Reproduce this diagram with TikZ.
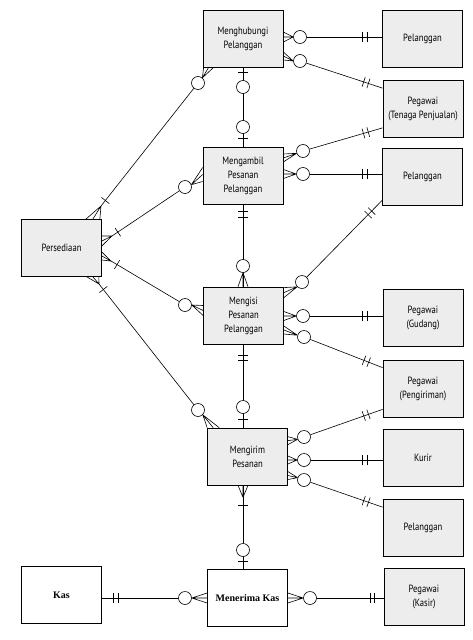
\documentclass[tikz,border=0pt]{standalone}
\usepackage{fontspec}
\newfontfamily\labfont[FakeStretch=0.82]{PT Sans}
\newfontfamily\serfont{Liberation Serif}
\usetikzlibrary{calc}
\pgfdeclarelayer{back}
\pgfdeclarelayer{bg}
\pgfsetlayers{back,bg,main}
\newcommand\crowft[3]{\draw[lk] (#1) -- (#2) (#1) -- ($(#2)+(#3)$) (#1) -- ($(#2)-(#3)$);}
\newcommand\tickbar[3]{\draw[lk] ($(#1)!#3!(#2)!5pt!90:(#2)$) -- ($(#1)!#3!(#2)!5pt!-90:(#2)$);}
\tikzset{
  ent/.style={draw, line width=0.7pt, fill=black!7, minimum width=80pt, minimum height=57pt,
    inner sep=0pt, align=center, font=\labfont\fontsize{10.5}{14}\selectfont},
  entw/.style={ent, fill=white, font=\serfont\bfseries\fontsize{10}{12}\selectfont},
  circ/.style={draw, circle, fill=white, minimum size=13pt, inner sep=0pt, line width=0.6pt},
  lk/.style={line width=0.6pt}
}
\begin{document}
\begin{tikzpicture}[x=1pt,y=-1pt]
\useasboundingbox (0,0) rectangle (472,640);
\begin{pgfonlayer}{back}
\fill[white] (0,0) rectangle (472,640);
\end{pgfonlayer}
% entities
\node[ent] (mh) at (243,38.5) {Menghubungi\\Pelanggan};
\node[ent] (p1) at (422.5,39) {Pelanggan};
\node[ent] (ptp) at (423,109) {Pegawai\\(Tenaga Penjualan)};
\node[ent] (ma) at (243,175.5) {Mengambil\\Pesanan\\Pelanggan};
\node[ent] (p2) at (422.5,176.5) {Pelanggan};
\node[ent] (mi) at (243.5,315.5) {Mengisi\\Pesanan\\Pelanggan};
\node[ent] (pg) at (423,317.5) {Pegawai\\(Gudang)};
\node[ent] (pp) at (423,388.5) {Pegawai\\(Pengiriman)};
\node[ent] (mk) at (247.5,456.5) {Mengirim\\Pesanan};
\node[ent] (ku) at (423,457.5) {Kurir};
\node[ent] (p3) at (423,528) {Pelanggan};
\node[ent] (ps) at (61.5,248) {Persediaan};
\node[entw] (kas) at (61.5,595) {Kas};
\node[entw] (mkas) at (247.5,598) {Menerima Kas};
\node[ent] (pk) at (424,596.5) {Pegawai\\(Kasir)};
% circles
\node[circ] (c1) at (300,37) {};
\node[circ] (c2) at (300,61) {};
\node[circ] (c3) at (243,87) {};
\node[circ] (c4) at (243,127) {};
\node[circ] (c5) at (303,151) {};
\node[circ] (c6) at (303,174) {};
\node[circ] (c7) at (243,266) {};
\node[circ] (c8) at (302,282) {};
\node[circ] (c9) at (303,316) {};
\node[circ] (c10) at (304,337) {};
\node[circ] (c11) at (243,407) {};
\node[circ] (c12) at (304,437) {};
\node[circ] (c13) at (304,460) {};
\node[circ] (c14) at (304,480) {};
\node[circ] (c15) at (243,550) {};
\node[circ] (c16) at (185,598) {};
\node[circ] (c17) at (310,598) {};
\node[circ] (c18) at (198,83) {};
\node[circ] (c19) at (185,187) {};
\node[circ] (c20) at (185,305) {};
\node[circ] (c21) at (198,410) {};
\begin{pgfonlayer}{bg}
% 1 mh - p1
\coordinate (a1) at (c1 -| p1.west);
\coordinate (t1) at (c1 -| mh.east);
\draw[lk] (c1) -- (a1);
\crowft{c1.west}{t1}{0,5}
\tickbar{a1}{c1}{15pt}\tickbar{a1}{c1}{20pt}
% 2 mh - ptp
\coordinate (a2) at ($(ptp.north west)+(0,8)$);
\coordinate (t2) at ($(mh.east)+(0,17.5)$);
\draw[lk] (c2) -- (a2);
\crowft{c2.west}{t2}{0,4}
\tickbar{a2}{c2}{15pt}\tickbar{a2}{c2}{20pt}
% 3 mh - ma
\draw[lk] (mh.south) -- (ma.north);
\tickbar{mh.south}{ma.north}{5pt}
\tickbar{ma.north}{mh.south}{8pt}
% 4 ma - ptp
\coordinate (a5) at ($(ptp.south west)+(0,-10)$);
\coordinate (t5) at ($(ma.east)+(0,-17.5)$);
\draw[lk] (c5) -- (a5);
\crowft{c5.200}{t5}{0,4}
\tickbar{a5}{c5}{15pt}\tickbar{a5}{c5}{20pt}
% 5 ma - p2
\coordinate (a6) at (c6 -| p2.west);
\coordinate (t6) at (c6 -| ma.east);
\draw[lk] (c6) -- (a6);
\crowft{c6.west}{t6}{0,4.5}
\tickbar{a6}{c6}{15pt}\tickbar{a6}{c6}{20pt}
% 6 ma - mi
\coordinate (m6) at (c7 |- ma.south);
\coordinate (n6) at (c7 |- mi.north);
\draw[lk] (m6) -- (n6);
\tickbar{m6}{n6}{7pt}\tickbar{m6}{n6}{13pt}
\crowft{c7.south}{n6}{5,0}
% 7 p2 - mi
\coordinate (a8) at ($(p2.south west)+(0,-5)$);
\coordinate (t8) at ($(mi.north east)+(0,6)$);
\draw[lk] (a8) -- (c8);
\tickbar{a8}{c8}{15pt}\tickbar{a8}{c8}{20pt}
\crowft{c8.225}{t8}{0,5}
% 8 mi - pg
\coordinate (a9) at (c9 -| pg.west);
\coordinate (t9) at (c9 -| mi.east);
\draw[lk] (c9) -- (a9);
\tickbar{a9}{c9}{15pt}\tickbar{a9}{c9}{20pt}
\crowft{c9.west}{t9}{0,4.5}
% 9 mi - pp
\coordinate (a10) at ($(pp.north west)+(0,8)$);
\coordinate (t10) at ($(mi.east)+(0,14.5)$);
\draw[lk] (c10) -- (a10);
\tickbar{a10}{c10}{15pt}\tickbar{a10}{c10}{20pt}
\crowft{c10.165}{t10}{0,4}
% 10 mi - mk
\coordinate (m10) at (c11 |- mi.south);
\coordinate (n10) at (c11 |- mk.north);
\draw[lk] (m10) -- (n10);
\tickbar{m10}{n10}{11pt}\tickbar{m10}{n10}{16pt}
\tickbar{n10}{m10}{8pt}
% 11 pp - mk
\coordinate (a12) at ($(pp.south west)+(0,-8)$);
\coordinate (t12) at ($(mk.north east)+(0,13)$);
\draw[lk] (a12) -- (c12);
\tickbar{a12}{c12}{15pt}\tickbar{a12}{c12}{20pt}
\crowft{c12.200}{t12}{0,4}
% 12 mk - ku
\coordinate (a13) at (c13 -| ku.west);
\coordinate (t13) at (c13 -| mk.east);
\draw[lk] (c13) -- (a13);
\tickbar{a13}{c13}{15pt}\tickbar{a13}{c13}{20pt}
\crowft{c13.west}{t13}{0,4}
% 13 mk - p3
\coordinate (a14) at ($(p3.north west)+(0,8)$);
\coordinate (t14) at ($(mk.east)+(0,19)$);
\draw[lk] (c14) -- (a14);
\tickbar{a14}{c14}{15pt}\tickbar{a14}{c14}{20pt}
\crowft{c14.160}{t14}{0,4}
% 14 mk - mkas
\coordinate (m14) at (c15 |- mk.south);
\coordinate (n14) at (c15 |- mkas.north);
\coordinate (x14) at ($(m14)+(0,12)$);
\draw[lk] (m14) -- (n14);
\crowft{x14}{m14}{5,0}
\tickbar{m14}{n14}{20pt}
\tickbar{n14}{m14}{8pt}
% 15 kas - mkas
\coordinate (a16) at (c16 -| kas.east);
\coordinate (t16) at (c16 -| mkas.west);
\draw[lk] (a16) -- (c16);
\tickbar{a16}{c16}{11pt}\tickbar{a16}{c16}{16pt}
\crowft{c16.east}{t16}{0,5}
% 16 mkas - pk
\coordinate (a17) at (c17 -| pk.west);
\coordinate (t17) at (c17 -| mkas.east);
\draw[lk] (c17) -- (a17);
\tickbar{a17}{c17}{9pt}\tickbar{a17}{c17}{13pt}
\crowft{c17.west}{t17}{0,5}
% 17 ps - mh
\coordinate (x18) at (101,206);
\coordinate (t18a) at ($(ps.north east)+(-9,0)$);
\coordinate (t18b) at ($(mh.south west)+(6,0)$);
\crowft{x18}{t18a}{7,0}
\draw[lk] (x18) -- (c18);
\tickbar{x18}{c18}{7pt}
\crowft{c18.50}{t18b}{5,0}
% 18 ps - ma
\coordinate (x19) at (112,236);
\coordinate (t19a) at ($(ps.east)+(0,-7)$);
\coordinate (t19b) at ($(ma.west)+(0,-1)$);
\crowft{x19}{t19a}{0,5}
\draw[lk] (x19) -- (c19);
\tickbar{x19}{c19}{7pt}
\crowft{c19.20}{t19b}{0,7}
% 19 ps - mi
\coordinate (x20) at (111,261);
\coordinate (t20a) at ($(ps.east)+(0,8)$);
\coordinate (t20b) at ($(mi.west)+(0,-5)$);
\crowft{x20}{t20a}{0,4}
\draw[lk] (x20) -- (c20);
\tickbar{x20}{c20}{7pt}
\crowft{c20.east}{t20b}{0,5}
% 20 ps - mk
\coordinate (x21) at (99,284);
\coordinate (t21a) at ($(ps.south east)+(-9,0)$);
\coordinate (t21b) at ($(mk.north west)+(6,0)$);
\crowft{x21}{t21a}{6,0}
\draw[lk] (x21) -- (c21);
\tickbar{x21}{c21}{7pt}
\crowft{c21.south east}{t21b}{6,0}
\end{pgfonlayer}
\end{tikzpicture}
\end{document}
